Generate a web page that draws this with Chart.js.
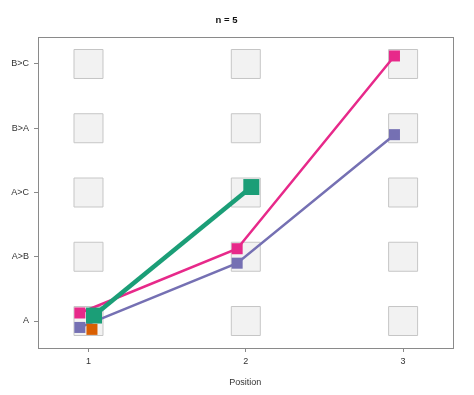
<!DOCTYPE html>
<html>
<head>
<meta charset="utf-8">
<script src="https://cdn.jsdelivr.net/npm/chart.js@4/dist/chart.umd.min.js"></script>
<style>
  body { margin: 0; background: #fff; }
  #wrap { width: 474px; height: 395px; }
</style>
</head>
<body>
<div id="wrap"><canvas id="chart" width="474" height="395"></canvas></div>
<script>
const yLabels = ['A', 'A>B', 'A>C', 'B>A', 'B>C'];
const positions = [1, 2, 3];

// category index of each series at positions 1..3
const pinkVals = [0, 1, 4];
const purpleVals = [0, 1, 3];
const greenVals = [0, 2];
const orangeVals = [0];

// where each series sits inside a cell (quadrant offset, data units)
const pinkShift = [-0.055, 0.125];
const purpleShift = [-0.055, -0.1];
const greenShift = [0.035, 0.085];
const orangeShift = [0.022, -0.13];

function toPoints(vals, shift) {
    return vals.map((v, i) => ({ x: positions[i] + shift[0], y: v + shift[1] }));
}

const cells = [];
positions.forEach(p => {
    yLabels.forEach((lab, j) => cells.push({ x: p, y: j }));
});

const font = 'Liberation Sans, Arial, Helvetica, sans-serif';

const boxPlugin = {
    id: 'box',
    afterDraw(chart) {
        const a = chart.chartArea;
        const ctx = chart.ctx;
        ctx.save();
        ctx.strokeStyle = '#8a8a8a';
        ctx.lineWidth = 1;
        ctx.strokeRect(Math.round(a.left) + 0.5, Math.round(a.top) + 0.5,
            Math.round(a.right - a.left), Math.round(a.bottom - a.top));
        ctx.restore();
    }
};

function series(vals, shift, color, width, radius, order) {
    return {
        data: toPoints(vals, shift),
        order: order,
        showLine: true,
        borderColor: color,
        backgroundColor: color,
        borderWidth: width,
        pointStyle: 'rect',
        pointRadius: radius,
        pointHoverRadius: radius,
        pointBorderWidth: 0,
        clip: false
    };
}

new Chart(document.getElementById('chart'), {
    type: 'scatter',
    data: {
        datasets: [
            {
                data: cells,
                order: 10,
                pointStyle: 'rect',
                pointRadius: 20.5,
                pointHoverRadius: 20.5,
                backgroundColor: '#f2f2f2',
                borderColor: '#c6c6c6',
                pointBorderWidth: 1
            },
            series(purpleVals, purpleShift, '#7570b3', 2.5, 7.8, 4),
            series(pinkVals, pinkShift, '#e7298a', 2.5, 7.8, 3),
            series(greenVals, greenShift, '#1b9e77', 4.5, 11.3, 2),
            series(orangeVals, orangeShift, '#d95f02', 2.5, 7.8, 1)
        ]
    },
    options: {
        responsive: false,
        animation: false,
        layout: { padding: { left: 0, right: 21, top: 0, bottom: 0 } },
        plugins: {
            legend: { display: false },
            tooltip: { enabled: false },
            title: {
                display: true,
                text: 'n = 5',
                color: '#111',
                font: { family: font, size: 9.5, weight: 'bold' },
                padding: { top: 14.3, bottom: 11.3 }
            }
        },
        scales: {
            x: {
                type: 'linear',
                min: 0.679,
                max: 3.314,
                afterBuildTicks: s => { s.ticks = positions.map(v => ({ value: v })); },
                afterFit: s => { s.height = 47; },
                border: { display: false },
                grid: { drawOnChartArea: false, drawTicks: true, tickLength: 4, color: '#8a8a8a' },
                ticks: { color: '#333', padding: 4, font: { family: font, size: 9 } },
                title: {
                    display: true,
                    text: 'Position',
                    color: '#333',
                    font: { family: font, size: 9 },
                    padding: { top: 0, bottom: 7 }
                }
            },
            y: {
                type: 'linear',
                min: -0.42,
                max: 4.42,
                afterBuildTicks: s => { s.ticks = yLabels.map((l, i) => ({ value: i })); },
                afterFit: s => { s.width = 38; },
                border: { display: false },
                grid: { drawOnChartArea: false, drawTicks: true, tickLength: 4, color: '#8a8a8a' },
                ticks: {
                    color: '#333',
                    padding: 5,
                    font: { family: font, size: 9 },
                    callback: v => yLabels[v]
                }
            }
        }
    },
    plugins: [boxPlugin]
});
</script>
</body>
</html>
